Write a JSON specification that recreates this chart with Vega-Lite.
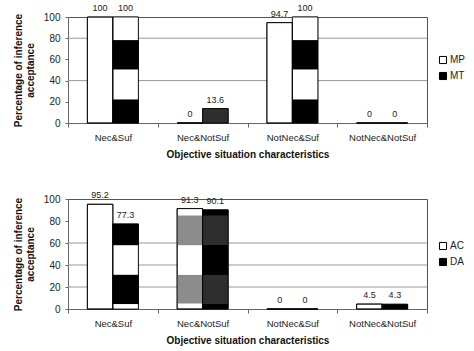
{
  "$schema": "https://vega.github.io/schema/vega-lite/v6.json",
  "padding": {"left": 12, "top": 3, "right": 5, "bottom": 5},
  "resolve": {"scale": {"xOffset": "independent", "fill": "independent", "y": "independent", "x": "independent"}, "legend": {"fill": "independent"}},
  "config": {
    "font": "Liberation Sans",
    "view": {"stroke": "#555", "strokeWidth": 1},
    "scale": {"offsetBandPaddingInner": 0, "offsetBandPaddingOuter": 0.76, "bandPaddingInner": 0, "bandPaddingOuter": 0, "barBandPaddingInner": 0, "bandWithNestedOffsetPaddingInner": 0, "bandWithNestedOffsetPaddingOuter": 0},
    "axis": {"labelColor": "#222", "titleColor": "#111", "domainColor": "#666", "tickColor": "#666", "labelFontSize": 10, "titleFontSize": 10, "titleFontWeight": "bold"},
    "axisX": {"labelAngle": 0, "labelFontSize": 9.5, "tickBand": "extent", "tickSize": 4, "labelPadding": 5, "titlePadding": 8, "grid": false},
    "axisY": {"tickSize": 3, "labelPadding": 5, "titlePadding": 8, "grid": false, "labelOverlap": false, "tickCount": 6}
  },
  "datasets": {
    "bars": [
      {"panel": "top", "cat": "Nec&Suf", "inf": "MP", "value": 100},
      {"panel": "top", "cat": "Nec&Suf", "inf": "MT", "value": 100},
      {"panel": "top", "cat": "Nec&NotSuf", "inf": "MP", "value": 0},
      {"panel": "top", "cat": "Nec&NotSuf", "inf": "MT", "value": 13.6},
      {"panel": "top", "cat": "NotNec&Suf", "inf": "MP", "value": 94.7},
      {"panel": "top", "cat": "NotNec&Suf", "inf": "MT", "value": 100},
      {"panel": "top", "cat": "NotNec&NotSuf", "inf": "MP", "value": 0},
      {"panel": "top", "cat": "NotNec&NotSuf", "inf": "MT", "value": 0},
      {"panel": "bottom", "cat": "Nec&Suf", "inf": "AC", "value": 95.2},
      {"panel": "bottom", "cat": "Nec&Suf", "inf": "DA", "value": 77.3},
      {"panel": "bottom", "cat": "Nec&NotSuf", "inf": "AC", "value": 91.3},
      {"panel": "bottom", "cat": "Nec&NotSuf", "inf": "DA", "value": 90.1},
      {"panel": "bottom", "cat": "NotNec&Suf", "inf": "AC", "value": 0},
      {"panel": "bottom", "cat": "NotNec&Suf", "inf": "DA", "value": 0},
      {"panel": "bottom", "cat": "NotNec&NotSuf", "inf": "AC", "value": 4.5},
      {"panel": "bottom", "cat": "NotNec&NotSuf", "inf": "DA", "value": 4.3}
    ],
    "grid": [
      {"panel": "top", "level": 40},
      {"panel": "top", "level": 80},
      {"panel": "bottom", "level": 20},
      {"panel": "bottom", "level": 40},
      {"panel": "bottom", "level": 60}
    ],
    "segs": [
      {"panel": "top", "cat": "Nec&Suf", "inf": "MT", "lo": 78, "hi": 100, "shade": "white"},
      {"panel": "top", "cat": "Nec&Suf", "inf": "MT", "lo": 50.5, "hi": 78, "shade": "black"},
      {"panel": "top", "cat": "Nec&Suf", "inf": "MT", "lo": 22, "hi": 50.5, "shade": "white"},
      {"panel": "top", "cat": "Nec&Suf", "inf": "MT", "lo": 0, "hi": 22, "shade": "black"},
      {"panel": "top", "cat": "Nec&NotSuf", "inf": "MT", "lo": 0, "hi": 13.6, "shade": "dark"},
      {"panel": "top", "cat": "NotNec&Suf", "inf": "MT", "lo": 78, "hi": 100, "shade": "white"},
      {"panel": "top", "cat": "NotNec&Suf", "inf": "MT", "lo": 50.5, "hi": 78, "shade": "black"},
      {"panel": "top", "cat": "NotNec&Suf", "inf": "MT", "lo": 22, "hi": 50.5, "shade": "white"},
      {"panel": "top", "cat": "NotNec&Suf", "inf": "MT", "lo": 0, "hi": 22, "shade": "black"},
      {"panel": "bottom", "cat": "Nec&Suf", "inf": "DA", "lo": 58, "hi": 77.3, "shade": "black"},
      {"panel": "bottom", "cat": "Nec&Suf", "inf": "DA", "lo": 31, "hi": 58, "shade": "white"},
      {"panel": "bottom", "cat": "Nec&Suf", "inf": "DA", "lo": 4.5, "hi": 31, "shade": "black"},
      {"panel": "bottom", "cat": "Nec&Suf", "inf": "DA", "lo": 0, "hi": 4.5, "shade": "white"},
      {"panel": "bottom", "cat": "Nec&NotSuf", "inf": "AC", "lo": 58, "hi": 85, "shade": "gray"},
      {"panel": "bottom", "cat": "Nec&NotSuf", "inf": "AC", "lo": 5, "hi": 31, "shade": "gray"},
      {"panel": "bottom", "cat": "Nec&NotSuf", "inf": "DA", "lo": 85, "hi": 90.1, "shade": "black"},
      {"panel": "bottom", "cat": "Nec&NotSuf", "inf": "DA", "lo": 58, "hi": 85, "shade": "dark"},
      {"panel": "bottom", "cat": "Nec&NotSuf", "inf": "DA", "lo": 31, "hi": 58, "shade": "black"},
      {"panel": "bottom", "cat": "Nec&NotSuf", "inf": "DA", "lo": 4.5, "hi": 31, "shade": "dark"},
      {"panel": "bottom", "cat": "Nec&NotSuf", "inf": "DA", "lo": 0, "hi": 4.5, "shade": "black"}
    ]
  },
  "vconcat": [
    {
      "width": 359,
      "height": 106,
      "resolve": {"scale": {"fill": "independent"}},
      "layer": [
        {
          "data": {"name": "grid"},
          "transform": [{"filter": "datum.panel == 'top'"}],
          "mark": {"type": "rule", "color": "#999", "strokeWidth": 1},
          "encoding": {
            "y": {"field": "level", "type": "quantitative", "scale": {"domain": [0, 100], "nice": false}, "title": ["Percentage of inference", "acceptance"]}
          }
        },
        {
          "data": {"name": "bars"},
          "transform": [{"filter": "datum.panel == 'top'"}],
          "mark": {"type": "bar", "stroke": "#000", "strokeWidth": 0.8},
          "encoding": {
            "x": {"field": "cat", "type": "nominal", "sort": ["Nec&Suf", "Nec&NotSuf", "NotNec&Suf", "NotNec&NotSuf"], "title": "Objective situation characteristics", "scale": {"paddingInner": 0, "paddingOuter": 0}},
            "xOffset": {"field": "inf", "type": "nominal", "sort": ["MP", "MT"], "scale": {"paddingInner": 0, "paddingOuter": 0.76}},
            "y": {"field": "value", "type": "quantitative", "title": ["Percentage of inference", "acceptance"]},
            "fill": {"field": "inf", "type": "nominal", "scale": {"domain": ["MP", "MT"], "range": ["#ffffff", "#000000"]},
              "legend": {"title": null, "orient": "none", "legendX": 370, "legendY": 38, "symbolType": "square", "symbolSize": 50, "symbolStrokeColor": "#000", "symbolStrokeWidth": 1, "labelFontSize": 10, "labelColor": "#222", "rowPadding": 4, "labelOffset": 2}}
          }
        },
        {
          "data": {"name": "segs"},
          "transform": [{"filter": "datum.panel == 'top'"}],
          "mark": {"type": "bar"},
          "encoding": {
            "x": {"field": "cat", "type": "nominal", "sort": ["Nec&Suf", "Nec&NotSuf", "NotNec&Suf", "NotNec&NotSuf"], "title": "Objective situation characteristics"},
            "xOffset": {"field": "inf", "type": "nominal", "sort": ["MP", "MT"]},
            "y": {"field": "hi", "type": "quantitative", "title": ["Percentage of inference", "acceptance"]},
            "y2": {"field": "lo"},
            "fill": {"field": "shade", "type": "nominal", "scale": {"domain": ["white", "black", "gray", "dark"], "range": ["#ffffff", "#000000", "#8c8c8c", "#2e2e2e"]}, "legend": null}
          }
        },
        {
          "data": {"name": "bars"},
          "transform": [{"filter": "datum.panel == 'top'"}],
          "mark": {"type": "bar", "fillOpacity": 0, "stroke": "#000", "strokeWidth": 0.8},
          "encoding": {
            "x": {"field": "cat", "type": "nominal", "sort": ["Nec&Suf", "Nec&NotSuf", "NotNec&Suf", "NotNec&NotSuf"], "title": "Objective situation characteristics"},
            "xOffset": {"field": "inf", "type": "nominal", "sort": ["MP", "MT"]},
            "y": {"field": "value", "type": "quantitative", "title": ["Percentage of inference", "acceptance"]}
          }
        },
        {
          "data": {"name": "bars"},
          "transform": [{"filter": "datum.panel == 'top'"}],
          "mark": {"type": "text", "baseline": "bottom", "dy": -4, "fontSize": 9, "color": "#222"},
          "encoding": {
            "x": {"field": "cat", "type": "nominal", "sort": ["Nec&Suf", "Nec&NotSuf", "NotNec&Suf", "NotNec&NotSuf"], "title": "Objective situation characteristics"},
            "xOffset": {"field": "inf", "type": "nominal", "sort": ["MP", "MT"]},
            "y": {"field": "value", "type": "quantitative", "title": ["Percentage of inference", "acceptance"]},
            "text": {"field": "value", "type": "quantitative"}
          }
        }
      ]
    },
    {
      "width": 359,
      "height": 110,
      "resolve": {"scale": {"fill": "independent"}},
      "layer": [
        {
          "data": {"name": "grid"},
          "transform": [{"filter": "datum.panel == 'bottom'"}],
          "mark": {"type": "rule", "color": "#999", "strokeWidth": 1},
          "encoding": {
            "y": {"field": "level", "type": "quantitative", "scale": {"domain": [0, 100], "nice": false}, "title": ["Percentage of inference", "acceptance"]}
          }
        },
        {
          "data": {"name": "bars"},
          "transform": [{"filter": "datum.panel == 'bottom'"}],
          "mark": {"type": "bar", "stroke": "#000", "strokeWidth": 0.8},
          "encoding": {
            "x": {"field": "cat", "type": "nominal", "sort": ["Nec&Suf", "Nec&NotSuf", "NotNec&Suf", "NotNec&NotSuf"], "title": "Objective situation characteristics", "scale": {"paddingInner": 0, "paddingOuter": 0}},
            "xOffset": {"field": "inf", "type": "nominal", "sort": ["AC", "DA"], "scale": {"paddingInner": 0, "paddingOuter": 0.76}},
            "y": {"field": "value", "type": "quantitative", "title": ["Percentage of inference", "acceptance"]},
            "fill": {"field": "inf", "type": "nominal", "scale": {"domain": ["AC", "DA"], "range": ["#ffffff", "#000000"]},
              "legend": {"title": null, "orient": "none", "legendX": 370, "legendY": 42, "symbolType": "square", "symbolSize": 50, "symbolStrokeColor": "#000", "symbolStrokeWidth": 1, "labelFontSize": 10, "labelColor": "#222", "rowPadding": 4, "labelOffset": 2}}
          }
        },
        {
          "data": {"name": "segs"},
          "transform": [{"filter": "datum.panel == 'bottom'"}],
          "mark": {"type": "bar"},
          "encoding": {
            "x": {"field": "cat", "type": "nominal", "sort": ["Nec&Suf", "Nec&NotSuf", "NotNec&Suf", "NotNec&NotSuf"], "title": "Objective situation characteristics"},
            "xOffset": {"field": "inf", "type": "nominal", "sort": ["AC", "DA"]},
            "y": {"field": "hi", "type": "quantitative", "title": ["Percentage of inference", "acceptance"]},
            "y2": {"field": "lo"},
            "fill": {"field": "shade", "type": "nominal", "scale": {"domain": ["white", "black", "gray", "dark"], "range": ["#ffffff", "#000000", "#8c8c8c", "#2e2e2e"]}, "legend": null}
          }
        },
        {
          "data": {"name": "bars"},
          "transform": [{"filter": "datum.panel == 'bottom'"}],
          "mark": {"type": "bar", "fillOpacity": 0, "stroke": "#000", "strokeWidth": 0.8},
          "encoding": {
            "x": {"field": "cat", "type": "nominal", "sort": ["Nec&Suf", "Nec&NotSuf", "NotNec&Suf", "NotNec&NotSuf"], "title": "Objective situation characteristics"},
            "xOffset": {"field": "inf", "type": "nominal", "sort": ["AC", "DA"]},
            "y": {"field": "value", "type": "quantitative", "title": ["Percentage of inference", "acceptance"]}
          }
        },
        {
          "data": {"name": "bars"},
          "transform": [{"filter": "datum.panel == 'bottom'"}],
          "mark": {"type": "text", "baseline": "bottom", "dy": -4, "fontSize": 9, "color": "#222"},
          "encoding": {
            "x": {"field": "cat", "type": "nominal", "sort": ["Nec&Suf", "Nec&NotSuf", "NotNec&Suf", "NotNec&NotSuf"], "title": "Objective situation characteristics"},
            "xOffset": {"field": "inf", "type": "nominal", "sort": ["AC", "DA"]},
            "y": {"field": "value", "type": "quantitative", "title": ["Percentage of inference", "acceptance"]},
            "text": {"field": "value", "type": "quantitative"}
          }
        }
      ]
    }
  ],
  "spacing": 30
}
